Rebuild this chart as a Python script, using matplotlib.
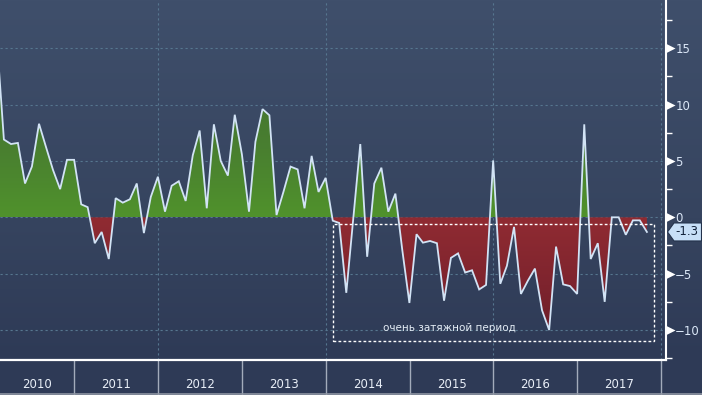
import numpy as np
import pandas as pd
import matplotlib
matplotlib.use("Agg")
import matplotlib.pyplot as plt
import matplotlib.dates as mdates
from matplotlib.path import Path
from matplotlib.colors import LinearSegmentedColormap, to_rgb
from matplotlib.patches import Rectangle, Polygon
from matplotlib.lines import Line2D
from datetime import datetime

# ---------------- data ----------------
values = [15.0, 6.9, 6.5, 6.6, 3.0, 4.5, 8.3, 6.2, 4.2, 2.5, 5.1, 5.1,
          1.15, 0.9, -2.3, -1.3, -3.7, 1.7, 1.3, 1.6, 3.0, -1.4, 1.8, 3.6,
          0.5, 2.8, 3.2, 1.45, 5.5, 7.7, 0.8, 8.25, 5.0, 3.7, 9.1, 5.6,
          0.5, 6.7, 9.6, 9.05, 0.2, 2.25, 4.5, 4.25, 0.8, 5.45, 2.25, 3.5,
          -0.3, -0.5, -6.7, -0.2, 6.5, -3.5, 3.0, 4.4, 0.5, 2.1, -2.9, -7.6,
          -1.5, -2.25, -2.1, -2.3, -7.4, -3.6, -3.2, -4.9, -4.7, -6.4, -6.0, 5.05,
          -5.9, -4.3, -0.85, -6.8, -5.6, -4.55, -8.25, -10.0, -2.6, -5.95, -6.1, -6.8,
          8.25, -3.7, -2.3, -7.5, 0.0, 0.0, -1.55, -0.27, -0.27, -1.3]
start_month = "2010-01-31"
years = [2010, 2011, 2012, 2013, 2014, 2015, 2016, 2017]
grid_years = [2012, 2014, 2016, 2018]
major_ticks = [15, 10, 5, 0, -5, -10]
minor_ticks = [17.5, 12.5, 7.5, 2.5, -2.5, -7.5, -12.5]
annotation = "очень затяжной период"

try:
    dates = pd.date_range(start_month, periods=len(values), freq="ME")
except ValueError:
    dates = pd.date_range(start_month, periods=len(values), freq="M")
x = mdates.date2num(dates.to_pydatetime())
v = np.array(values, dtype=float)

# ---------------- figure ----------------
W, H = 702, 395
fig = plt.figure(figsize=(W / 100, H / 100), dpi=100)

# background gradient
bg = fig.add_axes([0, 0, 1, 1], zorder=0)
bg.axis("off")
rows = np.arange(H)
c_top, c_mid, c_bot = to_rgb("#3f4f6b"), to_rgb("#36445f"), to_rgb("#2e3a56")
img = np.zeros((H, 1, 3))
for ch in range(3):
    img[:, 0, ch] = np.interp(rows, [0, 217, 360, H], [c_top[ch], c_mid[ch], c_bot[ch], c_bot[ch]])
bg.imshow(img, extent=[0, 1, 0, 1], aspect="auto", origin="upper")
bg.set_xlim(0, 1)
bg.set_ylim(0, 1)

ax_w = 665.5 / W
bar_h = 35 / H
ax = fig.add_axes([0, bar_h, ax_w, 1 - bar_h], zorder=1)
ax.patch.set_alpha(0)

xl = (mdates.date2num(datetime(2010, 2, 11)), mdates.date2num(datetime(2018, 1, 20)))
yl = (-12.66, 19.28)

# fills with gradient
pos = ax.fill_between(x, v, 0, where=v >= 0, interpolate=True, facecolor="none", lw=0)
neg = ax.fill_between(x, v, 0, where=v <= 0, interpolate=True, facecolor="none", lw=0)
g_cmap = LinearSegmentedColormap.from_list("g", ["#50922c", "#497f30", "#447431"])
r_cmap = LinearSegmentedColormap.from_list("r", ["#902b32", "#7e242e", "#661b27"])
grad = np.linspace(0, 1, 256).reshape(-1, 1)
for coll, cmap, ext in [(pos, g_cmap, (0, 12)), (neg, r_cmap, (0, -12))]:
    paths = coll.get_paths()
    if not paths:
        continue
    comp = Path.make_compound_path(*paths)
    im = ax.imshow(grad, extent=[xl[0], xl[1], ext[0], ext[1]], origin="lower",
                   aspect="auto", cmap=cmap, zorder=2, interpolation="bilinear")
    im.set_clip_path(comp, ax.transData)

ax.plot(x, v, color="#d2e3f5", lw=1.3, zorder=4, solid_joinstyle="miter")

# grid
grid_kw = dict(color="#56768f", lw=0.8, ls=(0, (2, 2.5)), zorder=1)
for t in major_ticks:
    ax.axhline(t, **grid_kw)
for gy in grid_years:
    ax.axvline(mdates.date2num(datetime(gy, 1, 1)), **grid_kw)

# dashed box + annotation
bx0 = mdates.date2num(datetime(2014, 1, 31))
bx1 = mdates.date2num(datetime(2017, 12, 1))
ax.add_patch(Rectangle((bx0, -11.0), bx1 - bx0, 10.43, fill=False, ec="white",
                       lw=1.0, ls=(0, (2, 1.6)), zorder=5))
ax.text(mdates.date2num(datetime(2015, 6, 22)), -9.85, annotation, ha="center",
        va="center", fontsize=7.5, color="#e4ecf5", zorder=6)

ax.set_xlim(*xl)
ax.set_ylim(*yl)

# axes styling
for s in ["left", "top", "bottom"]:
    ax.spines[s].set_visible(False)
ax.spines["right"].set_color("white")
ax.spines["right"].set_linewidth(1.5)
ax.set_xticks([])
ax.yaxis.tick_right()
ax.set_yticks(major_ticks)
ax.set_yticklabels([str(t).replace("-", "\u2212") for t in major_ticks])
ax.set_yticks(minor_ticks, minor=True)
ax.tick_params(axis="y", which="major", length=0, pad=7, labelsize=8.5,
               labelcolor="#dbe7f7")
ax.tick_params(axis="y", which="minor", length=4, width=1, color="white",
               right=True, left=False)

tri = Path([(0, -0.5), (1, 0), (0, 0.5), (0, -0.5)],
           [Path.MOVETO, Path.LINETO, Path.LINETO, Path.CLOSEPOLY])
ax.plot(np.ones(len(major_ticks)), major_ticks, transform=ax.get_yaxis_transform(),
        marker=tri, ms=13, color="white", mew=0, ls="none", clip_on=False, zorder=6)

# year bar
bar = fig.add_axes([0, 0, ax_w, bar_h], zorder=1)
bar.patch.set_alpha(0)
bar.axis("off")
bar.set_xlim(*xl)
bar.set_ylim(0, 1)
for yr in years + [2018]:
    bar.axvline(mdates.date2num(datetime(yr, 1, 1)), color="#a3abbb", lw=1)
bar.axhline(1, color="white", lw=1.6, clip_on=False)
for yr in years:
    a = max(mdates.date2num(datetime(yr, 1, 1)), xl[0])
    b = min(mdates.date2num(datetime(yr + 1, 1, 1)), xl[1])
    bar.text((a + b) / 2, 0.29, str(yr), ha="center", va="center", fontsize=8.5,
             color="#e8eef7")
fig.add_artist(Line2D([0, 1], [0.8 / H, 0.8 / H], transform=fig.transFigure,
                      color="#8f96a3", lw=1.2))

# last-value tag
last = v[-1]
fig.canvas.draw()
ay = ax.transData.transform((xl[0], last))[1]
sx = 665.5
pts = [(sx + 2, ay), (sx + 8.5, ay + 9), (W - 0.5, ay + 9), (W - 0.5, ay - 9), (sx + 8.5, ay - 9)]
fig.add_artist(Polygon([(px / W, py / H) for px, py in pts], closed=True,
                       transform=fig.transFigure, fc="#c7dff7", ec="#23324b", lw=0.8,
                       zorder=10))
fig.text((sx + 21) / W, ay / H, f"{last:.1f}", ha="center",
         va="center", fontsize=8.5, color="#13233b", zorder=11)

fig.savefig("out.png", dpi=100)
